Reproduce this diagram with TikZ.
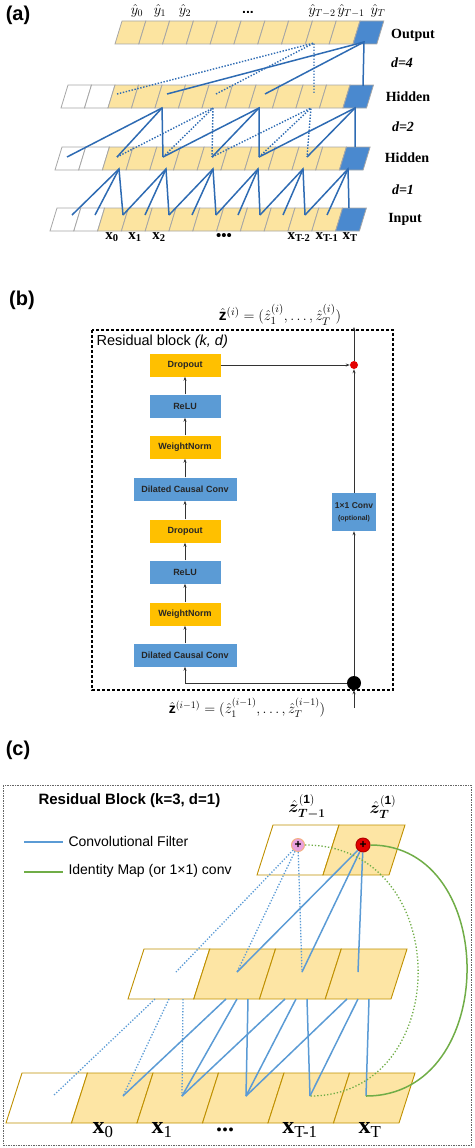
\documentclass[tikz,border=0pt]{standalone}
\usepackage{fontspec}
\usepackage{amsmath,bm}
\setmainfont{Liberation Sans}
\newfontfamily\tnr{Liberation Serif}
\usetikzlibrary{arrows.meta}
\definecolor{cellyel}{HTML}{FCE4A0}
\definecolor{cellblu}{HTML}{4A89CF}
\definecolor{tcnline}{HTML}{2E6BB3}
\definecolor{boxorg}{HTML}{FFC000}
\definecolor{boxblu}{HTML}{5B9BD5}
\definecolor{cyel}{HTML}{FDE5A4}
\definecolor{cbrd}{HTML}{BF9000}
\definecolor{cblue}{HTML}{5B9BD5}
\definecolor{cgreen}{HTML}{70AD47}
\definecolor{pinkdot}{HTML}{E9A0E0}
\definecolor{pinkrim}{HTML}{F4B183}
\definecolor{reddot}{HTML}{E30000}
% one row of slanted cells: style, top-left x, top y, cell width, fills
\newcommand{\cellrow}[5]{%
  \foreach \f [count=\i from 0] in {#5}
    \draw[#1, fill=\f] ({#2+\i*#4},#3) -- ++(#4,0) -- ++(-\cellslant,\cellht) -- ++(-#4,0) -- cycle;
}
\tikzset{
  tag/.style={font=\fontsize{20}{22}\selectfont\bfseries},
  cellA/.style={draw=black!35, line width=0.8pt},
  cellC/.style={draw=cbrd, line width=0.9pt},
  filt/.style={tcnline, line width=1.5pt},
  filtdot/.style={tcnline, line width=1.4pt, dash pattern=on 1.4pt off 1.6pt},
  rowlab/.style={font=\tnr\fontsize{14}{16}\selectfont\bfseries},
  dlab/.style={font=\tnr\fontsize{14}{16}\selectfont\bfseries\itshape},
  xlab/.style={font=\tnr\fontsize{15}{16}\selectfont\bfseries},
  ylab/.style={font=\fontsize{14}{15}\selectfont},
  orgbox/.style={fill=boxorg, text=black!85, font=\fontsize{9}{10}\selectfont\bfseries,
    minimum width=71pt, minimum height=23pt, inner sep=0pt},
  blubox/.style={orgbox, fill=boxblu},
  widebox/.style={blubox, minimum width=103pt},
  arr/.style={-{Stealth[length=4pt,width=3pt]}, black!80, line width=0.8pt},
  conv/.style={cblue, line width=1.5pt},
  convdot/.style={cblue, line width=1.3pt, dash pattern=on 1.3pt off 1.7pt},
  ident/.style={cgreen, line width=1.5pt},
  identdot/.style={cgreen, line width=1.3pt, dash pattern=on 1.3pt off 2pt},
  legtext/.style={anchor=west, font=\fontsize{14}{16}\selectfont},
  cxlab/.style={font=\tnr\fontsize{24}{26}\selectfont\bfseries},
  zlab/.style={font=\fontsize{17}{18}\selectfont},
}

\begin{document}
\begin{tikzpicture}[x=1pt, y=-1pt]
\useasboundingbox (0,0) rectangle (474,1148);

%%%%% (a) dilated causal convolution %%%%%
\node[tag] (taga) at (18,15) {(a)};

\def\cellht{23}\def\cellslant{7}
\cellrow{cellA}{122}{21}{23.8}{cellyel,cellyel,cellyel,cellyel,cellyel,cellyel,cellyel,cellyel,cellyel,cellyel,cellblu}
\cellrow{cellA}{68}{85}{23.5}{white,white,cellyel,cellyel,cellyel,cellyel,cellyel,cellyel,cellyel,cellyel,cellyel,cellyel,cellblu}
\cellrow{cellA}{62}{147}{23.7}{white,white,cellyel,cellyel,cellyel,cellyel,cellyel,cellyel,cellyel,cellyel,cellyel,cellyel,cellblu}
\cellrow{cellA}{57}{208}{23.8}{white,white,cellyel,cellyel,cellyel,cellyel,cellyel,cellyel,cellyel,cellyel,cellyel,cellyel,cellblu}

% points inside the rows
\foreach \x [count=\i from 0] in {72,95,123,145,169,192,216,238,260,283,305,327}
  \coordinate (in-\i) at (\x,215);
\coordinate (in-12) at (349,208);
\foreach \i/\x in {0/67,2/117,4/163,6/212,8/259,10/307}
  \coordinate (hA-\i) at (\x,157);
\coordinate (hA-12) at (355,147);
\foreach \j/\x in {2/119,4/166,6/213,8/258,10/303,12/348}
  \coordinate (hAp-\j) at (\x,169);
\foreach \i/\x in {2/117,4/167,6/216,8/265,10/314}
  \coordinate (hB-\i) at (\x,94);
\coordinate (hB-12) at (363,86);
\foreach \j/\x in {4/162,6/213,8/259,10/311,12/355}
  \coordinate (hBp-\j) at (\x,108);
\coordinate (outp-8) at (314,43);
\coordinate (outp-10) at (364,42);

% d=1
\foreach \j in {2,4,...,12} {
  \pgfmathtruncatemacro\ja{\j-1}
  \pgfmathtruncatemacro\jb{\j-2}
  \draw[filt] (in-\jb) -- (hAp-\j) -- (in-\j);
  \draw[filt] (in-\ja) -- (hAp-\j);
}
% d=2
\foreach \j/\s in {4/filt,6/filtdot,8/filt,10/filtdot,12/filt} {
  \pgfmathtruncatemacro\ja{\j-2}
  \pgfmathtruncatemacro\jb{\j-4}
  \draw[\s] (hA-\jb) -- (hBp-\j) -- (hA-\j);
  \draw[\s] (hA-\ja) -- (hBp-\j);
}
% d=4
\draw[filt] (hB-4) -- (outp-10) -- (hB-12);
\draw[filt] (hB-8) -- (outp-10);
\draw[filtdot] (hB-2) -- (outp-8) -- (hB-10);
\draw[filtdot] (hB-6) -- (outp-8);

\foreach \x/\sub in {137/0,160/1,185/2,322/{T-2},351/{T-1},378/T}
  \node[ylab] at (\x,11) {$\hat{y}_{\sub}$};
\node[ylab] (ydots) at (248,12) {\textbf{...}};
\foreach \x/\sub in {112/0,135/1,159/2,299/T-2,327/T-1,350/T}
  \node[xlab] at (\x,237) {x\textsubscript{\sub}};
\node[xlab] (xdots) at (224,237) {\textbullet\textbullet\textbullet};

\node[rowlab] (outlab) at (413,35) {Output};
\node[dlab] (d4) at (402,63) {d=4};
\node[rowlab] (hidlab2) at (408,97) {Hidden};
\node[dlab] (d2) at (403,127) {d=2};
\node[rowlab] (hidlab1) at (407,158) {Hidden};
\node[dlab] (d1) at (403,190) {d=1};
\node[rowlab] (inlab) at (405,219) {Input};

%%%%% (b) residual block %%%%%
\node[tag] (tagb) at (22,300) {(b)};
\draw[black, line width=1.3pt, dash pattern=on 3pt off 2pt] (92,330) rectangle (393,690);
\node[anchor=west, font=\fontsize{14.5}{16}\selectfont] (blocklab) at (93,342) {Residual block \textit{(k, d)}};

\node[orgbox] (drop2) at (185,365) {Dropout};
\node[blubox] (relu2) at (185,406) {ReLU};
\node[orgbox] (wn2) at (185,447) {WeightNorm};
\node[widebox] (dcc2) at (185,489) {Dilated Causal Conv};
\node[orgbox] (drop1) at (185,531) {Dropout};
\node[blubox] (relu1) at (185,572) {ReLU};
\node[orgbox] (wn1) at (185,614) {WeightNorm};
\node[widebox] (dcc1) at (185,655) {Dilated Causal Conv};
\node[blubox, minimum width=44pt, minimum height=38pt, align=center, font=\fontsize{8.5}{12}\selectfont\bfseries] (onebyone) at (354,512)
  {1\texttimes1 Conv\\{\fontsize{7}{9}\selectfont (optional)}};

\node[circle, fill=black, minimum size=14pt, inner sep=0pt] (split) at (354,683) {};
\node[circle, fill=reddot, minimum size=8pt, inner sep=0pt] (sum) at (354,365) {};
\coordinate (zin) at (354,708);
\coordinate (zout) at (354,327);

\draw[arr] (zin) -- (split);
\draw[arr] (split) -| (dcc1);
\draw[arr] (split) -- (onebyone);
\draw[arr] (onebyone) -- (sum);
\draw[arr] (sum) -- (zout);
\draw[arr] (drop2) -- (sum);
\draw[arr] (dcc1) -- (wn1);
\draw[arr] (wn1) -- (relu1);
\draw[arr] (relu1) -- (drop1);
\draw[arr] (drop1) -- (dcc2);
\draw[arr] (dcc2) -- (wn2);
\draw[arr] (wn2) -- (relu2);
\draw[arr] (relu2) -- (drop2);

\node[font=\fontsize{15.5}{17}\selectfont] (zoutlab) at (280,315)
  {$\hat{\mathbf{z}}^{(i)} = (\hat{z}_1^{(i)}, \ldots, \hat{z}_T^{(i)})$};
\node[font=\fontsize{14}{16}\selectfont] (zinlab) at (247,708)
  {$\hat{\mathbf{z}}^{(i-1)} = (\hat{z}_1^{(i-1)}, \ldots, \hat{z}_T^{(i-1)})$};

%%%%% (c) residual block k=3, d=1 %%%%%
\node[tag] (tagc) at (18,750) {(c)};
\draw[black!60, line width=0.7pt, dash pattern=on 1.5pt off 1pt] (3,785) rectangle (471,1145);
\node[anchor=west, font=\fontsize{15}{17}\selectfont\bfseries] (blocklabc) at (35,801) {Residual Block (k=3, d=1)};

\coordinate (leg-a1) at (24,842);
\coordinate (leg-a2) at (63,842);
\coordinate (leg-b1) at (24,872);
\coordinate (leg-b2) at (63,872);
\draw[conv] (leg-a1) -- (leg-a2);
\draw[ident] (leg-b1) -- (leg-b2);
\node[legtext] (legconv) at (65,841) {Convolutional Filter};
\node[legtext] (legident) at (65,871) {Identity Map (or 1\texttimes1) conv};

\def\cellht{50}\def\cellslant{16}
\cellrow{cellC}{273}{825}{66}{white,cyel}
\cellrow{cellC}{144}{949}{65.75}{white,cyel,cyel,cyel}
\cellrow{cellC}{22}{1073}{65.5}{white,cyel,cyel,cyel,cyel,cyel}

\foreach \x [count=\i from 0] in {176,237,302,358}
  \coordinate (m-\i) at (\x,972);
\foreach \x [count=\i from 0] in {53,123,182,246,310,366}
  \coordinate (b-\i) at (\x,1096);
\foreach \cc/\x/\st in {0/155/14,1/226/11,2/285/11,3/347/11}
  \foreach \kk in {0,1,2}
    \coordinate (mb-\cc-\kk) at ({\x+\kk*\st},999);

\node[circle, fill=pinkdot, draw=pinkrim, line width=1pt, minimum size=13pt, inner sep=0pt,
  font=\fontsize{12}{12}\selectfont\bfseries] (zTm1) at (298,845) {+};
\node[circle, fill=reddot, draw=red!70!black, line width=1pt, minimum size=14pt, inner sep=0pt,
  font=\fontsize{12}{12}\selectfont\bfseries] (zT) at (363,845) {+};

\foreach \i in {1,2,3}
  \draw[conv] (zT) -- (m-\i);
\foreach \i in {0,1,2}
  \draw[convdot] (zTm1) -- (m-\i);
\foreach \kk in {0,1,2}
  \draw[convdot] (mb-0-\kk) -- (b-\kk);
\foreach \cc in {1,2,3}
  \foreach \kk in {0,1,2} {
    \pgfmathtruncatemacro\tgt{\cc+\kk}
    \draw[conv] (mb-\cc-\kk) -- (b-\tgt);
  }

\draw[ident] (zT.east) .. controls (500,845) and (500,1096) .. (b-5);
\draw[identdot] (zTm1.east) .. controls (455,845) and (455,1096) .. (b-4);

\node[zlab] (ztm1lab) at (307,807) {$\hat{\bm{z}}^{(\mathbf{1})}_{\bm{T-1}}$};
\node[zlab] (ztlab) at (383,807) {$\hat{\bm{z}}^{(\mathbf{1})}_{\bm{T}}$};

\foreach \x/\sub in {103/0,162/1,300/T-1,370/T}
  \node[cxlab] at (\x,1130) {x\textsubscript{\mdseries\sub}};
\node[cxlab] (cdots) at (225,1130) {...};
\end{tikzpicture}
\end{document}
